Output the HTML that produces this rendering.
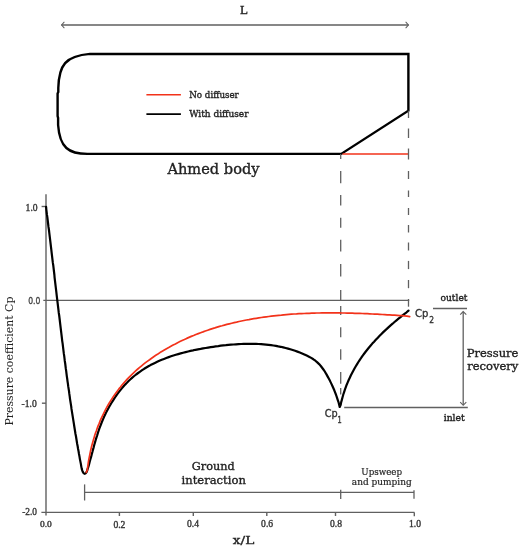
<!DOCTYPE html>
<html><head><meta charset="utf-8"><title>Ahmed body pressure coefficient</title>
<style>html,body{margin:0;padding:0;background:#fff;}svg{display:block;}</style></head>
<body><svg width="522" height="550" viewBox="0 0 522 550">
<rect width="522" height="550" fill="#fff"/>
<g stroke="#606060" stroke-width="1.3" fill="none" stroke-linecap="round">
<line x1="61.8" y1="25" x2="408.2" y2="25"/>
<polyline stroke-width="1.05" points="64.1,22.2 61.6,25 64.1,27.8"/>
<polyline stroke-width="1.05" points="405.9,22.2 408.4,25 405.9,27.8"/>
</g>
<text x="240.0" y="13.8" font-size="12.80" font-family="'Liberation Serif', serif" fill="#222" textLength="8.0" lengthAdjust="spacingAndGlyphs" stroke="#222" stroke-width="0.35">L</text>
<path d="M 408.4 54 L 90 53.9 C 65.34 55.87 58.88 65.11 58.3 88 L 58.3 92 L 57.6 93.5 L 57.6 116 L 58.1 118 L 58.1 125 C 59.67 147.63 68.68 154.06 88 153.9 L 341.2 153.9 L 408.4 110.7 Z" fill="none" stroke="#000" stroke-width="2.4" stroke-linejoin="miter"/>
<line x1="342.5" y1="154" x2="408.4" y2="154" stroke="#f2321a" stroke-width="1.6"/>
<line x1="146.4" y1="94.7" x2="180.9" y2="94.7" stroke="#f2321a" stroke-width="1.5"/>
<line x1="146.4" y1="114.2" x2="180.9" y2="114.2" stroke="#000" stroke-width="1.8"/>
<text x="189.2" y="97.7" font-size="9.00" font-family="'DejaVu Serif', 'Liberation Serif', serif" fill="#222" textLength="49.6" lengthAdjust="spacingAndGlyphs" stroke="#222" stroke-width="0.35">No diffuser</text>
<text x="189.2" y="117.4" font-size="9.00" font-family="'DejaVu Serif', 'Liberation Serif', serif" fill="#222" textLength="59.3" lengthAdjust="spacingAndGlyphs" stroke="#222" stroke-width="0.35">With diffuser</text>
<text x="167.4" y="173.5" font-size="14.40" font-family="'DejaVu Serif', 'Liberation Serif', serif" fill="#222" textLength="92.2" lengthAdjust="spacingAndGlyphs" stroke="#222" stroke-width="0.35">Ahmed body</text>
<g stroke="#606060" stroke-width="1.3">
<line x1="340.7" y1="154.1" x2="340.7" y2="159.1"/><line x1="340.7" y1="170.9" x2="340.7" y2="183.2"/><line x1="340.7" y1="195.0" x2="340.7" y2="205.5"/><line x1="340.7" y1="217.7" x2="340.7" y2="227.7"/><line x1="340.7" y1="239.8" x2="340.7" y2="251.6"/><line x1="340.7" y1="264.0" x2="340.7" y2="276.5"/><line x1="340.7" y1="290.0" x2="340.7" y2="300.1"/><line x1="340.7" y1="305.9" x2="340.7" y2="315.0"/><line x1="340.7" y1="327.3" x2="340.7" y2="337.3"/><line x1="340.7" y1="349.3" x2="340.7" y2="359.7"/><line x1="340.7" y1="372.0" x2="340.7" y2="383.8"/><line x1="340.7" y1="388.0" x2="340.7" y2="394.6"/>
<line x1="408.5" y1="110.7" x2="408.5" y2="118.0"/><line x1="408.5" y1="128.5" x2="408.5" y2="138.0"/><line x1="408.5" y1="148.5" x2="408.5" y2="159.5"/><line x1="408.5" y1="171.0" x2="408.5" y2="179.0"/><line x1="408.5" y1="190.5" x2="408.5" y2="197.0"/><line x1="408.5" y1="208.0" x2="408.5" y2="215.0"/><line x1="408.5" y1="225.0" x2="408.5" y2="232.5"/><line x1="408.5" y1="242.5" x2="408.5" y2="250.5"/><line x1="408.5" y1="260.9" x2="408.5" y2="269.1"/><line x1="408.5" y1="280.0" x2="408.5" y2="288.2"/><line x1="408.5" y1="299.0" x2="408.5" y2="306.7"/>
</g>
<g stroke="#606060" stroke-width="1.4" fill="none">
<line x1="46" y1="194.3" x2="46" y2="515.6"/>
<line x1="41.4" y1="512.4" x2="414.5" y2="512.4"/>
<line x1="414.3" y1="512.4" x2="414.3" y2="516.2"/>
<line x1="41.6" y1="206.5" x2="46" y2="206.5"/>
<line x1="43.3" y1="300.4" x2="409.2" y2="300.4"/>
<line x1="41.9" y1="403.2" x2="46" y2="403.2"/>
<line x1="119.4" y1="512.4" x2="119.4" y2="516"/>
<line x1="193.3" y1="512.4" x2="193.3" y2="516"/>
<line x1="266.8" y1="512.4" x2="266.8" y2="516"/>
<line x1="335.5" y1="512.4" x2="335.5" y2="516"/>
</g>
<text x="25.6" y="210.8" font-size="9.80" font-family="'Liberation Serif', serif" fill="#333" textLength="12.0" lengthAdjust="spacingAndGlyphs" stroke="#333" stroke-width="0.35">1.0</text>
<text x="28.2" y="303.8" font-size="9.40" font-family="'DejaVu Sans', 'Liberation Sans', sans-serif" fill="#444" textLength="12.2" lengthAdjust="spacingAndGlyphs" stroke="#444" stroke-width="0.35">0.0</text>
<text x="21.5" y="407.1" font-size="9.80" font-family="'Liberation Serif', serif" fill="#333" textLength="15.2" lengthAdjust="spacingAndGlyphs" stroke="#333" stroke-width="0.35">-1.0</text>
<text x="22.2" y="515.0" font-size="9.80" font-family="'Liberation Serif', serif" fill="#333" textLength="14.8" lengthAdjust="spacingAndGlyphs" stroke="#333" stroke-width="0.35">-2.0</text>
<text x="40.0" y="527.4" font-size="8.30" font-family="'Liberation Serif', serif" fill="#333" textLength="11.8" lengthAdjust="spacingAndGlyphs" stroke="#333" stroke-width="0.35">0.0</text>
<text x="113.4" y="527.8" font-size="9.60" font-family="'Liberation Serif', serif" fill="#333" textLength="12.0" lengthAdjust="spacingAndGlyphs" stroke="#333" stroke-width="0.35">0.2</text>
<text x="187.0" y="526.8" font-size="9.60" font-family="'Liberation Serif', serif" fill="#333" textLength="12.0" lengthAdjust="spacingAndGlyphs" stroke="#333" stroke-width="0.35">0.4</text>
<text x="261.1" y="527.0" font-size="9.60" font-family="'Liberation Serif', serif" fill="#333" textLength="12.0" lengthAdjust="spacingAndGlyphs" stroke="#333" stroke-width="0.35">0.6</text>
<text x="330.0" y="526.8" font-size="9.60" font-family="'Liberation Serif', serif" fill="#333" textLength="12.0" lengthAdjust="spacingAndGlyphs" stroke="#333" stroke-width="0.35">0.8</text>
<text x="409.0" y="526.8" font-size="9.60" font-family="'Liberation Serif', serif" fill="#333" textLength="12.0" lengthAdjust="spacingAndGlyphs" stroke="#333" stroke-width="0.35">1.0</text>
<text x="232.8" y="543.8" font-size="11.20" font-family="'DejaVu Serif', 'Liberation Serif', serif" fill="#222" textLength="21.5" lengthAdjust="spacingAndGlyphs" stroke="#222" stroke-width="0.35">x/L</text>
<text transform="translate(13.1,425.6) rotate(-90)" x="0" y="0" font-size="11.2" font-family="'DejaVu Serif', 'Liberation Serif', serif" fill="#222" textLength="129" lengthAdjust="spacingAndGlyphs">Pressure coefficient Cp</text>
<path d="M46.1 206.8L46.3 209.3L46.6 211.9L46.9 214.4L47.3 216.9L47.6 219.4L47.9 222.0L48.2 224.5L48.5 227.0L48.9 229.5L49.2 232.1L49.5 234.6L49.8 237.1L50.1 239.6L50.4 242.2L50.7 244.7L51.0 247.2L51.3 249.7L51.6 252.3L51.9 254.8L52.2 257.3L52.5 259.9L52.8 262.4L53.2 264.9L53.5 267.4L53.8 270.0L54.1 272.5L54.4 275.0L54.6 277.6L54.9 280.1L55.2 282.6L55.5 285.1L55.8 287.7L56.1 290.2L56.4 292.7L56.7 295.3L57.0 297.8L57.3 300.3L57.6 302.8L57.9 305.4L58.2 307.9L58.5 310.4L58.8 313.0L59.2 315.5L59.5 318.0L59.8 320.5L60.1 323.1L60.4 325.6L60.7 328.1L61.0 330.6L61.3 333.2L61.6 335.7L61.9 338.2L62.2 340.8L62.6 343.3L62.9 345.8L63.2 348.3L63.5 350.9L63.8 353.4L64.2 355.9L64.5 358.4L64.8 361.0L65.2 363.5L65.5 366.0L65.8 368.5L66.2 371.1L66.5 373.6L66.8 376.1L67.2 378.6L67.5 381.1L67.9 383.7L68.2 386.2L68.6 388.7L69.0 391.2L69.3 393.7L69.7 396.3L70.0 398.8L70.4 401.3L70.8 403.8L71.2 406.3L71.5 408.9L71.9 411.4L72.3 413.9L72.7 416.4L73.1 418.9L73.5 421.4L73.9 423.9L74.3 426.5L74.7 429.0L75.1 431.5L75.5 434.0L76.0 436.5L76.4 439.0L76.8 441.5L77.2 444.0L77.7 446.5L78.1 449.0L78.6 451.5L79.0 454.0L79.5 456.6L79.9 459.1L80.4 461.6L80.9 464.1L81.3 466.6L81.8 469.1L82.6 471.5Q84.7 476.3 86.9 471.5L87.6 469.1L88.4 466.6L89.1 464.2L89.7 461.7L90.4 459.3L91.1 456.9L91.7 454.4L92.4 452.0L93.0 449.6L93.7 447.2L94.3 444.8L95.0 442.4L95.7 440.0L96.4 437.6L97.2 435.3L97.9 432.9L98.7 430.5L99.5 428.2L100.4 425.8L101.3 423.5L102.2 421.2L103.2 418.9L104.2 416.5L105.3 414.2L106.4 411.9L107.6 409.7L108.8 407.4L110.1 405.2L111.4 403.0L112.8 400.8L114.2 398.6L115.6 396.5L117.1 394.4L118.6 392.4L120.2 390.4L121.8 388.4L123.4 386.5L125.1 384.6L126.9 382.8L128.6 381.0L130.5 379.3L132.3 377.6L134.2 376.0L136.1 374.5L138.1 373.0L140.1 371.6L142.1 370.2L144.2 368.8L146.3 367.5L148.4 366.3L150.5 365.1L152.7 364.0L154.9 362.9L157.2 361.8L159.4 360.8L161.7 359.8L164.0 358.9L166.3 358.0L168.7 357.1L171.0 356.3L173.4 355.5L175.8 354.8L178.2 354.1L180.7 353.4L183.1 352.7L185.6 352.1L188.1 351.5L190.5 350.9L193.0 350.4L195.5 349.8L198.0 349.3L200.6 348.9L203.1 348.4L205.6 348.0L208.1 347.6L210.7 347.2L213.2 346.8L215.7 346.4L218.3 346.1L220.8 345.7L223.3 345.4L225.9 345.2L228.4 344.9L230.9 344.7L233.5 344.5L236.0 344.3L238.5 344.1L241.1 344.0L243.6 343.9L246.1 343.9L248.6 343.8L251.1 343.8L253.6 343.9L256.1 343.9L258.6 344.0L261.1 344.2L263.6 344.4L266.1 344.6L268.5 344.9L271.0 345.2L273.4 345.5L275.9 345.9L278.3 346.4L280.7 346.8L283.2 347.4L285.6 348.0L288.0 348.6L290.3 349.3L292.7 350.0L295.1 350.8L297.4 351.6L299.8 352.5L302.1 353.5L304.4 354.5L306.7 355.6L309.0 356.7L311.2 357.9L313.4 359.3L315.4 360.7L317.3 362.4L319.1 364.1L320.8 366.0L322.3 368.0L323.8 370.0L325.2 372.2L326.5 374.4L327.7 376.6L328.9 378.8L330.1 381.1L331.2 383.4L332.3 385.7L333.3 388.0L334.3 390.3L335.2 392.7L336.1 395.0L336.9 397.4L337.7 399.8L338.5 402.1L339.1 404.5L339.7 407.0L340.7 404.7L341.2 402.1L341.9 399.6L342.6 397.0L343.3 394.5L344.1 392.1L344.9 389.6L345.8 387.2L346.7 384.7L347.7 382.4L348.7 380.0L349.8 377.7L350.9 375.3L352.1 373.0L353.3 370.8L354.5 368.5L355.8 366.3L357.1 364.1L358.4 362.0L359.8 359.8L361.3 357.7L362.7 355.6L364.3 353.5L365.8 351.5L367.4 349.5L369.0 347.5L370.7 345.5L372.3 343.6L374.1 341.7L375.8 339.8L377.6 337.9L379.4 336.0L381.2 334.2L383.0 332.4L384.9 330.6L386.8 328.9L388.7 327.1L390.6 325.4L392.6 323.7L394.5 322.0L396.5 320.3L398.5 318.7L400.5 317.1L402.5 315.4L404.5 313.8L406.6 312.3L408.5 310.6" fill="none" stroke="#000" stroke-width="2.2" stroke-linejoin="round" stroke-linecap="round"/>
<path d="M86.3 472.4L87.3 470.2L87.6 467.7L88.0 465.2L88.3 462.7L88.7 460.1L89.2 457.6L89.7 455.1L90.2 452.6L90.7 450.1L91.3 447.7L91.9 445.2L92.6 442.7L93.3 440.3L94.0 437.9L94.7 435.4L95.5 433.0L96.4 430.7L97.2 428.3L98.1 425.9L99.1 423.6L100.0 421.2L101.0 418.9L102.1 416.6L103.2 414.4L104.3 412.1L105.4 409.9L106.6 407.7L107.8 405.5L109.1 403.3L110.4 401.2L111.7 399.1L113.1 397.0L114.5 394.9L115.9 392.9L117.4 390.9L118.9 388.9L120.5 387.0L122.0 385.0L123.7 383.1L125.3 381.3L127.0 379.4L128.7 377.6L130.5 375.8L132.3 374.1L134.1 372.4L135.9 370.7L137.8 369.0L139.7 367.4L141.6 365.8L143.6 364.2L145.5 362.7L147.6 361.1L149.6 359.7L151.6 358.2L153.7 356.7L155.8 355.3L157.9 354.0L160.0 352.6L162.2 351.3L164.3 350.0L166.5 348.7L168.7 347.5L170.9 346.2L173.1 345.0L175.4 343.9L177.6 342.7L179.9 341.6L182.1 340.5L184.4 339.5L186.7 338.4L189.0 337.4L191.3 336.4L193.6 335.5L195.9 334.5L198.3 333.6L200.6 332.7L203.0 331.9L205.3 331.0L207.7 330.2L210.0 329.4L212.4 328.6L214.8 327.9L217.2 327.1L219.6 326.4L222.0 325.8L224.4 325.1L226.8 324.4L229.3 323.8L231.7 323.2L234.1 322.6L236.6 322.1L239.0 321.5L241.5 321.0L243.9 320.5L246.4 320.0L248.9 319.6L251.3 319.1L253.8 318.7L256.3 318.3L258.8 317.9L261.3 317.5L263.8 317.1L266.3 316.8L268.8 316.5L271.3 316.2L273.8 315.9L276.3 315.6L278.8 315.3L281.4 315.1L283.9 314.8L286.4 314.6L288.9 314.4L291.4 314.2L294.0 314.0L296.5 313.9L299.0 313.7L301.6 313.6L304.1 313.5L306.6 313.4L309.2 313.3L311.7 313.2L314.3 313.1L316.8 313.0L319.3 313.0L321.9 312.9L324.4 312.9L326.9 312.9L329.5 312.9L332.0 312.9L334.5 312.9L337.1 312.9L339.6 312.9L342.1 313.0L344.7 313.0L347.2 313.1L349.7 313.1L352.2 313.2L354.8 313.3L357.3 313.3L359.8 313.4L362.3 313.5L364.8 313.6L367.3 313.7L369.8 313.8L372.3 314.0L374.8 314.1L377.3 314.2L379.8 314.3L382.3 314.5L384.8 314.6L387.2 314.8L389.7 314.9L392.2 315.1L394.6 315.2L397.1 315.4L399.6 315.6L402.0 315.7L404.4 315.9L406.9 316.1L409.7 316.6" fill="none" stroke="#f2321a" stroke-width="1.7" stroke-linecap="round" stroke-linejoin="round"/>
<g stroke="#606060" stroke-width="1.3">
<line x1="84.6" y1="492.4" x2="414" y2="492.4"/>
<line x1="84.6" y1="484.4" x2="84.6" y2="500.5"/>
<line x1="340.7" y1="489.7" x2="340.7" y2="499"/>
<line x1="414" y1="490.2" x2="414" y2="498.8"/>
</g>
<text x="191.7" y="469.6" font-size="11.80" font-family="'DejaVu Serif', 'Liberation Serif', serif" fill="#222" textLength="43.1" lengthAdjust="spacingAndGlyphs" stroke="#222" stroke-width="0.35">Ground</text>
<text x="181.5" y="483.8" font-size="11.80" font-family="'DejaVu Serif', 'Liberation Serif', serif" fill="#222" textLength="64.4" lengthAdjust="spacingAndGlyphs" stroke="#222" stroke-width="0.35">interaction</text>
<text x="361.3" y="474.6" font-size="9.60" font-family="'DejaVu Serif', 'Liberation Serif', serif" fill="#222" textLength="40.8" lengthAdjust="spacingAndGlyphs" stroke="#222" stroke-width="0.20">Upsweep</text>
<text x="351.8" y="484.8" font-size="9.60" font-family="'DejaVu Serif', 'Liberation Serif', serif" fill="#222" textLength="60.0" lengthAdjust="spacingAndGlyphs" stroke="#222" stroke-width="0.20">and pumping</text>
<g stroke="#606060" stroke-width="1.3" fill="none">
<line x1="433" y1="308.5" x2="467" y2="308.5"/>
<line x1="344.2" y1="407.5" x2="467.8" y2="407.5"/>
<line x1="463.2" y1="311.8" x2="463.2" y2="405"/>
<polyline stroke-width="1.1" points="460.2,314.7 463.2,311.6 466.3,314.7"/>
<polyline stroke-width="1.1" points="460.2,402.2 463.2,405.3 466.3,402.2"/>
</g>
<text x="440.5" y="300.8" font-size="9.00" font-family="'DejaVu Serif', 'Liberation Serif', serif" fill="#222" textLength="27.0" lengthAdjust="spacingAndGlyphs" stroke="#222" stroke-width="0.35">outlet</text>
<text x="443.7" y="420.5" font-size="9.00" font-family="'DejaVu Serif', 'Liberation Serif', serif" fill="#222" textLength="21.0" lengthAdjust="spacingAndGlyphs" stroke="#222" stroke-width="0.35">inlet</text>
<text x="466.8" y="356.6" font-size="11.00" font-family="'DejaVu Serif', 'Liberation Serif', serif" fill="#222" textLength="51.6" lengthAdjust="spacingAndGlyphs" stroke="#222" stroke-width="0.35">Pressure</text>
<text x="467.2" y="370.3" font-size="11.00" font-family="'DejaVu Serif', 'Liberation Serif', serif" fill="#222" textLength="51.2" lengthAdjust="spacingAndGlyphs" stroke="#222" stroke-width="0.35">recovery</text>
<text x="415.0" y="317.1" font-size="10.80" font-family="'DejaVu Sans', 'Liberation Sans', sans-serif" fill="#333" textLength="13.4" lengthAdjust="spacingAndGlyphs" stroke="#333" stroke-width="0.35">Cp</text>
<text x="429.2" y="322.8" font-size="8.60" font-family="'DejaVu Sans', 'Liberation Sans', sans-serif" fill="#333" textLength="4.8" lengthAdjust="spacingAndGlyphs" stroke="#333" stroke-width="0.35">2</text>
<text x="324.8" y="416.6" font-size="9.80" font-family="'DejaVu Sans', 'Liberation Sans', sans-serif" fill="#333" textLength="12.9" lengthAdjust="spacingAndGlyphs" stroke="#333" stroke-width="0.35">Cp</text>
<text x="337.6" y="422.7" font-size="8.60" font-family="'DejaVu Sans', 'Liberation Sans', sans-serif" fill="#333" textLength="4.2" lengthAdjust="spacingAndGlyphs" stroke="#333" stroke-width="0.35">1</text>
</svg></body></html>
